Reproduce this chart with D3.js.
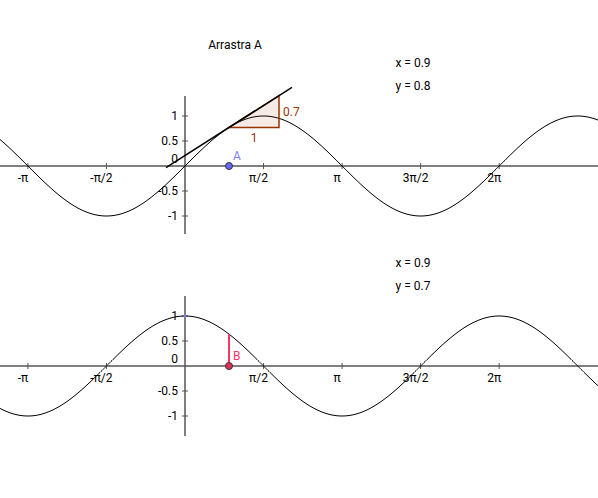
<!DOCTYPE html>
<html><head><meta charset="utf-8">
<script src="https://cdn.jsdelivr.net/npm/d3@7"></script>
<style>body{margin:0;background:#fff}text{font-family:Roboto,sans-serif;font-size:12px}</style>
</head><body><div id="chart"></div>
<script>
var xTicks = [-Math.PI, -Math.PI/2, Math.PI/2, Math.PI, 3*Math.PI/2, 2*Math.PI]
var xTickLabels = ["-π", "-π/2", "π/2", "π", "3π/2", "2π"]
var yTicks = [-1, -0.5, 0.5, 1]
var yTickLabels = ["-1", "-0.5", "0.5", "1"]
var pointX = 0.88
var topLabels = ["x = 0.9", "y = 0.8"]
var bottomLabels = ["x = 0.9", "y = 0.7"]
var slopeLabels = ["1", "0.7"]

var width = 598, height = 498
var svg = d3.select("#chart").append("svg").attr("width", width).attr("height", height)

var x = d3.scaleLinear().domain([-3.7, 8.26]).range([0, 598])
var samples = d3.range(-3.7, 8.3, 0.02)

svg.append("text").attr("x", 235).attr("y", 49).attr("text-anchor", "middle").text("Arrastra A")

function panel(oy, fn, labels, yTop, yBot) {
    var y = d3.scaleLinear().domain([-1, 1]).range([oy + 50, oy - 50])
    var g = svg.append("g")
    // axes
    g.append("line").attr("x1", 0).attr("x2", width).attr("y1", y(0)).attr("y2", y(0)).attr("stroke", "#555").attr("stroke-width", 1.5)
    g.append("line").attr("x1", x(0)).attr("x2", x(0)).attr("y1", yTop).attr("y2", yBot).attr("stroke", "#555").attr("stroke-width", 1.5)
    xTicks.forEach(function(t, i) {
        g.append("line").attr("x1", x(t)).attr("x2", x(t)).attr("y1", y(0) - 3).attr("y2", y(0) + 3).attr("stroke", "#555")
        g.append("text").attr("x", x(t) - 5).attr("y", y(0) + 16).attr("text-anchor", "middle").text(xTickLabels[i])
    })
    yTicks.forEach(function(t, i) {
        g.append("line").attr("x1", x(0) - 3).attr("x2", x(0) + 3).attr("y1", y(t)).attr("y2", y(t)).attr("stroke", "#555")
        g.append("text").attr("x", x(0) - 7).attr("y", y(t) + 4).attr("text-anchor", "end").text(yTickLabels[i])
    })
    g.append("text").attr("x", x(0) - 7).attr("y", y(0) - 3).attr("text-anchor", "end").text("0")
    g.append("path").datum(samples)
        .attr("d", d3.line().x(function(d){ return x(d) }).y(function(d){ return y(fn(d)) }))
        .attr("fill", "none").attr("stroke", "#000").attr("stroke-width", 1)
    g.append("text").attr("x", 413).attr("y", oy - 99).attr("text-anchor", "middle").text(labels[0])
    g.append("text").attr("x", 413).attr("y", oy - 76).attr("text-anchor", "middle").text(labels[1])
    return y
}

// top: sin with tangent
var y1 = panel(166, Math.sin, topLabels, 96, 234)
var s0 = Math.sin(pointX), m = Math.cos(pointX)
svg.append("path")
    .attr("d", "M" + x(pointX) + "," + y1(s0) + "L" + x(pointX + 1) + "," + y1(s0) + "L" + x(pointX + 1) + "," + y1(s0 + m) + "Z")
    .attr("fill", "rgba(153,51,0,0.1)").attr("stroke", "#993300").attr("stroke-width", 1.5)
svg.append("line")
    .attr("x1", x(-0.38)).attr("y1", y1(s0 + m * (-0.38 - pointX)))
    .attr("x2", x(2.14)).attr("y2", y1(s0 + m * (2.14 - pointX)))
    .attr("stroke", "#000").attr("stroke-width", 1.5)
svg.append("text").attr("x", x(pointX + 0.5)).attr("y", y1(s0) + 15).attr("text-anchor", "middle").attr("fill", "#993300").text(slopeLabels[0])
svg.append("text").attr("x", x(pointX + 1) + 4).attr("y", y1(s0 + m / 2) + 4).attr("fill", "#993300").text(slopeLabels[1])
svg.append("circle").attr("cx", x(pointX)).attr("cy", y1(0)).attr("r", 3.5).attr("fill", "#6666ff").attr("stroke", "#333")
svg.append("text").attr("x", x(pointX) + 4).attr("y", y1(0) - 6).attr("fill", "#7f7fff").text("A")

// bottom: cos with segment
var y2 = panel(366, Math.cos, bottomLabels, 296, 436)
svg.append("line").attr("x1", x(pointX)).attr("x2", x(pointX)).attr("y1", y2(0)).attr("y2", y2(Math.cos(pointX)))
    .attr("stroke", "#ff3366").attr("stroke-width", 2)
svg.append("circle").attr("cx", x(pointX)).attr("cy", y2(0)).attr("r", 3.5).attr("fill", "#e0305a").attr("stroke", "#333")
svg.append("text").attr("x", x(pointX) + 4).attr("y", y2(0) - 6).attr("fill", "#ff3366").text("B")
svg.append("circle").attr("cx", x(0)).attr("cy", y2(1)).attr("r", 1.5).attr("fill", "#7f7fff")
</script></body></html>
